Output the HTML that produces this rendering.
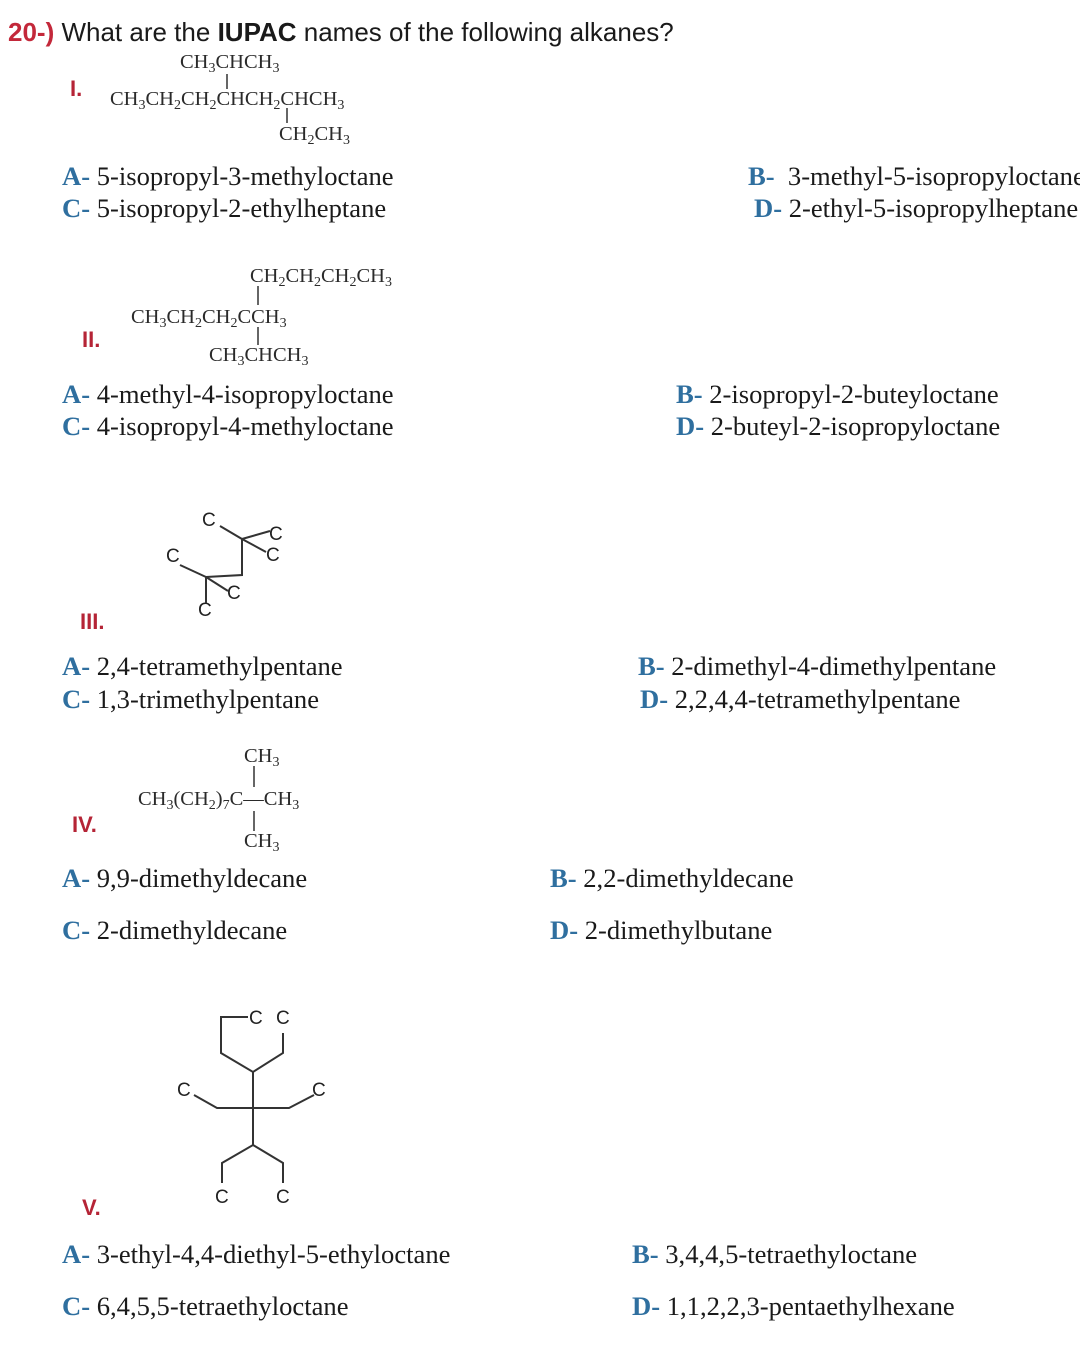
<!DOCTYPE html>
<html><head><meta charset="utf-8"><style>
body{margin:0;width:1080px;height:1346px;background:#fff;position:relative;overflow:hidden;font-family:"Liberation Serif",serif;color:#1a1a1a}
.t{position:absolute;white-space:nowrap}
.h{font-family:"Liberation Sans",sans-serif;font-size:26px;line-height:26px}
.red{color:#c3283a;font-weight:bold}
.lab{font-family:"Liberation Sans",sans-serif;font-size:22px;font-weight:bold;color:#b52436;line-height:22px}
.o{font-size:26.6px;line-height:26px}
.o b{color:#2f6f9f;font-weight:bold}
.f{font-size:20.5px;line-height:20px;color:#2a2a2a}
.f sub{font-size:14px;line-height:0;vertical-align:-4px}
.c{font-family:"Liberation Sans",sans-serif;font-size:19px;line-height:18px;color:#222}
</style></head><body>
<div class="t h" style="left:8px;top:19px"><span class="red">20-)</span> What are the <b>IUPAC</b> names of the following alkanes?</div>

<div class="t lab" style="left:70px;top:78px">I.</div>
<div class="t f" style="left:180px;top:52px">CH<sub>3</sub>CHCH<sub>3</sub></div>
<div class="t f" style="left:110px;top:89px">CH<sub>3</sub>CH<sub>2</sub>CH<sub>2</sub>CHCH<sub>2</sub>CHCH<sub>3</sub></div>
<div class="t f" style="left:279px;top:124px">CH<sub>2</sub>CH<sub>3</sub></div>

<div class="t o" style="left:62px;top:163px"><b>A-</b> 5-isopropyl-3-methyloctane</div>
<div class="t o" style="left:62px;top:195px"><b>C-</b> 5-isopropyl-2-ethylheptane</div>
<div class="t o" style="left:748px;top:163px"><b>B-</b>&nbsp; 3-methyl-5-isopropyloctane</div>
<div class="t o" style="left:754px;top:195px"><b>D-</b> 2-ethyl-5-isopropylheptane</div>

<div class="t lab" style="left:82px;top:329px">II.</div>
<div class="t f" style="left:250px;top:266px">CH<sub>2</sub>CH<sub>2</sub>CH<sub>2</sub>CH<sub>3</sub></div>
<div class="t f" style="left:131px;top:307px">CH<sub>3</sub>CH<sub>2</sub>CH<sub>2</sub>CCH<sub>3</sub></div>
<div class="t f" style="left:209px;top:345px">CH<sub>3</sub>CHCH<sub>3</sub></div>
<div class="t o" style="left:62px;top:381px"><b>A-</b> 4-methyl-4-isopropyloctane</div>
<div class="t o" style="left:62px;top:413px"><b>C-</b> 4-isopropyl-4-methyloctane</div>
<div class="t o" style="left:676px;top:381px"><b>B-</b> 2-isopropyl-2-buteyloctane</div>
<div class="t o" style="left:676px;top:413px"><b>D-</b> 2-buteyl-2-isopropyloctane</div>

<div class="t lab" style="left:80px;top:611px">III.</div>
<div class="t c" style="left:202px;top:512px">C</div>
<div class="t c" style="left:269px;top:526px">C</div>
<div class="t c" style="left:266px;top:547px">C</div>
<div class="t c" style="left:166px;top:548px">C</div>
<div class="t c" style="left:227px;top:585px">C</div>
<div class="t c" style="left:198px;top:602px">C</div>
<div class="t o" style="left:62px;top:653px"><b>A-</b> 2,4-tetramethylpentane</div>
<div class="t o" style="left:62px;top:686px"><b>C-</b> 1,3-trimethylpentane</div>
<div class="t o" style="left:638px;top:653px"><b>B-</b> 2-dimethyl-4-dimethylpentane</div>
<div class="t o" style="left:640px;top:686px"><b>D-</b> 2,2,4,4-tetramethylpentane</div>

<div class="t lab" style="left:72px;top:814px">IV.</div>
<div class="t f" style="left:244px;top:746px">CH<sub>3</sub></div>
<div class="t f" style="left:138px;top:789px">CH<sub>3</sub>(CH<sub>2</sub>)<sub>7</sub>C&#8212;CH<sub>3</sub></div>
<div class="t f" style="left:244px;top:831px">CH<sub>3</sub></div>
<div class="t o" style="left:62px;top:865px"><b>A-</b> 9,9-dimethyldecane</div>
<div class="t o" style="left:62px;top:917px"><b>C-</b> 2-dimethyldecane</div>
<div class="t o" style="left:550px;top:865px"><b>B-</b> 2,2-dimethyldecane</div>
<div class="t o" style="left:550px;top:917px"><b>D-</b> 2-dimethylbutane</div>

<div class="t lab" style="left:82px;top:1197px">V.</div>
<div class="t c" style="left:249px;top:1010px">C</div>
<div class="t c" style="left:276px;top:1010px">C</div>
<div class="t c" style="left:177px;top:1082px">C</div>
<div class="t c" style="left:312px;top:1082px">C</div>
<div class="t c" style="left:215px;top:1189px">C</div>
<div class="t c" style="left:276px;top:1189px">C</div>
<div class="t o" style="left:62px;top:1241px"><b>A-</b> 3-ethyl-4,4-diethyl-5-ethyloctane</div>
<div class="t o" style="left:62px;top:1293px"><b>C-</b> 6,4,5,5-tetraethyloctane</div>
<div class="t o" style="left:632px;top:1241px"><b>B-</b> 3,4,4,5-tetraethyloctane</div>
<div class="t o" style="left:632px;top:1293px"><b>D-</b> 1,1,2,2,3-pentaethylhexane</div>

<svg width="1080" height="1346" style="position:absolute;left:0;top:0" fill="none" stroke="#333" stroke-width="1.5">
<line x1="227" y1="74" x2="227" y2="89"/>
<line x1="287" y1="108" x2="287" y2="123"/>
<line x1="258" y1="286" x2="258" y2="305"/>
<line x1="258" y1="327" x2="258" y2="345"/>
<line x1="254" y1="766" x2="254" y2="787"/>
<line x1="254" y1="811" x2="254" y2="831"/>
<g stroke-width="2">
<polyline points="220,526 242,539 270,531"/>
<line x1="242" y1="539" x2="266" y2="552"/>
<polyline points="242,539 242,575 206,577"/>
<line x1="180" y1="565" x2="206" y2="577"/>
<line x1="206" y1="577" x2="228" y2="591"/>
<line x1="206" y1="577" x2="206" y2="603"/>
<polyline points="248,1017 221,1017 221,1053 253,1072 283,1053 283,1033"/>
<line x1="253" y1="1072" x2="253" y2="1145"/>
<polyline points="194,1095 217,1108 289,1108 314,1095"/>
<polyline points="222,1183 222,1163 253,1145 283,1163 283,1183"/>
</g>
</svg>
</body></html>
